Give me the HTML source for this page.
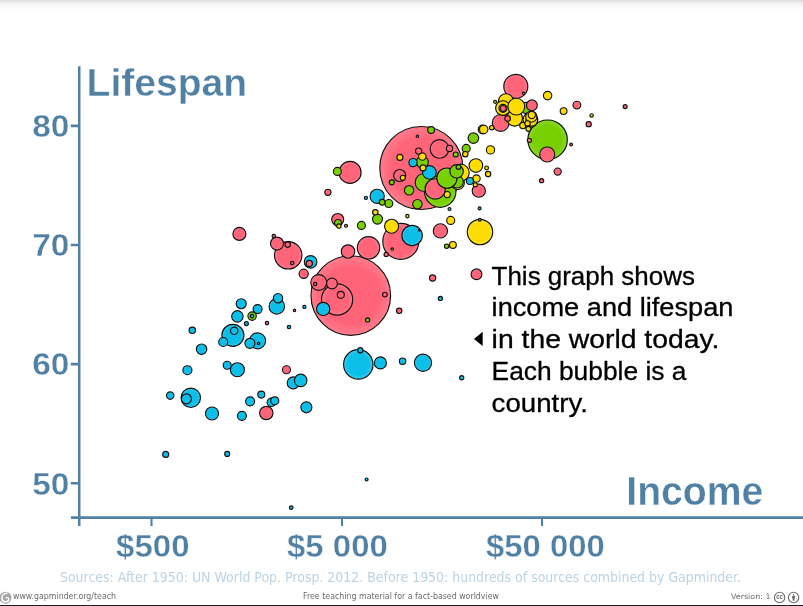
<!DOCTYPE html>
<html><head><meta charset="utf-8"><title>Gapminder</title>
<style>
html,body{margin:0;padding:0;background:#fff;}
body{width:803px;height:606px;overflow:hidden;position:relative;font-family:"Liberation Sans",sans-serif;}
#top{position:absolute;left:0;top:0;width:803px;height:10px;background:linear-gradient(#dedede,#f4f4f4 40%,#fff);}
#bar{position:absolute;left:0;top:604.5px;width:803px;height:1.5px;background:#1e1e1e;}
svg{position:absolute;left:0;top:0;}
.ax{stroke:#fff;stroke-width:0.35px;fill:#5080a3;font-family:"Liberation Sans",sans-serif;font-weight:bold;}
.bub circle{stroke:#111;stroke-width:1.15;}
.t{font-family:"Liberation Sans",sans-serif;fill:#000;stroke:#000;stroke-width:0.3px;font-size:26px;}
.src{font-family:"DejaVu Sans","Liberation Sans",sans-serif;fill:#bcd3e3;font-size:13.2px;}
.ft{font-family:"DejaVu Sans","Liberation Sans",sans-serif;fill:#6a6a6a;font-size:8px;}
</style></head><body>
<div id="top"></div>
<svg width="803" height="606" viewBox="0 0 803 606">
<defs><radialGradient id="gp"><stop offset="0" stop-color="#ff6479"/><stop offset="0.72" stop-color="#ff6479"/><stop offset="1" stop-color="#ff7d8d"/></radialGradient><radialGradient id="gb"><stop offset="0" stop-color="#0bbfe9"/><stop offset="0.72" stop-color="#0bbfe9"/><stop offset="1" stop-color="#3ccdf0"/></radialGradient><radialGradient id="gg"><stop offset="0" stop-color="#78d000"/><stop offset="0.72" stop-color="#78d000"/><stop offset="1" stop-color="#8cd92c"/></radialGradient><radialGradient id="gy"><stop offset="0" stop-color="#ffdc00"/><stop offset="0.72" stop-color="#ffdc00"/><stop offset="1" stop-color="#ffe335"/></radialGradient><radialGradient id="go"><stop offset="0" stop-color="#f58a6a"/><stop offset="0.72" stop-color="#f58a6a"/><stop offset="1" stop-color="#f58a6a"/></radialGradient></defs>
<g stroke="#5080a3" stroke-width="2.5" fill="none">
<path d="M79.25 66.3V526"/><path d="M71 517.6H803" stroke-width="2.7"/>
<path d="M151.5 517V526M342 517V526M542 517V526" stroke-width="2.1"/>
<path d="M70.8 125.9H79M70.8 245H79M70.8 364.1H79M70.8 483.2H79" stroke-width="2.6"/>
</g>
<text class="ax" x="86.6" y="95.9" font-size="38.8" textLength="160.5" lengthAdjust="spacingAndGlyphs">Lifespan</text>
<text class="ax" x="626.3" y="504.5" font-size="40" textLength="137" lengthAdjust="spacingAndGlyphs">Income</text>
<text class="ax" x="32.2" y="137.2" font-size="32" textLength="37.2" lengthAdjust="spacingAndGlyphs">80</text>
<text class="ax" x="32.2" y="256.3" font-size="32" textLength="37.2" lengthAdjust="spacingAndGlyphs">70</text>
<text class="ax" x="32.2" y="375.4" font-size="32" textLength="37.2" lengthAdjust="spacingAndGlyphs">60</text>
<text class="ax" x="32.2" y="494.5" font-size="32" textLength="37.2" lengthAdjust="spacingAndGlyphs">50</text>
<text class="ax" x="116" y="556.6" font-size="32" textLength="73.5" lengthAdjust="spacingAndGlyphs">$500</text>
<text class="ax" x="287" y="556.6" font-size="32" textLength="100.8" lengthAdjust="spacingAndGlyphs">$5 000</text>
<text class="ax" x="486" y="556.6" font-size="32" textLength="118.8" lengthAdjust="spacingAndGlyphs">$50 000</text>
<g class="bub">
<circle cx="421.3" cy="168.0" r="41.5" fill="url(#gp)"/>
<circle cx="350.8" cy="295.5" r="39.8" fill="url(#gp)"/>
<circle cx="515.8" cy="86.4" r="12.0" fill="url(#gp)"/>
<circle cx="547.6" cy="139.7" r="19.7" fill="url(#gg)"/>
<circle cx="525.9" cy="108.0" r="5.6" fill="url(#gg)"/>
<circle cx="400.8" cy="241.4" r="18.0" fill="url(#gp)"/>
<circle cx="505.9" cy="101.2" r="7.5" fill="url(#gy)"/>
<circle cx="500.7" cy="122.9" r="8.4" fill="url(#gp)"/>
<circle cx="502.9" cy="108.1" r="7.3" fill="url(#gy)"/>
<circle cx="514.6" cy="118.2" r="7.9" fill="url(#gy)"/>
<circle cx="503.0" cy="108.3" r="4.0" fill="url(#gy)"/>
<circle cx="440.2" cy="191.6" r="15.7" fill="url(#gg)"/>
<circle cx="337.1" cy="299.5" r="15.6" fill="url(#gp)"/>
<circle cx="503.2" cy="108.5" r="3.0" fill="url(#gp)"/>
<circle cx="358.3" cy="364.4" r="14.7" fill="url(#gb)"/>
<circle cx="516.3" cy="106.6" r="8.4" fill="url(#gy)"/>
<circle cx="531.9" cy="105.3" r="5.4" fill="url(#gp)"/>
<circle cx="288.2" cy="255.3" r="13.7" fill="url(#gp)"/>
<circle cx="530.4" cy="119.8" r="7.4" fill="url(#gy)"/>
<circle cx="480.0" cy="232.0" r="12.7" fill="url(#gy)"/>
<circle cx="531.8" cy="120.2" r="5.8" fill="url(#gy)"/>
<circle cx="531.3" cy="116.7" r="5.6" fill="url(#gy)"/>
<circle cx="368.5" cy="247.8" r="11.2" fill="url(#gp)"/>
<circle cx="232.9" cy="335.3" r="11.0" fill="url(#gb)"/>
<circle cx="350.1" cy="172.4" r="11.0" fill="url(#gp)"/>
<circle cx="531.8" cy="115.1" r="3.6" fill="url(#gy)"/>
<circle cx="424.2" cy="182.5" r="9.0" fill="url(#gg)"/>
<circle cx="457.7" cy="182.8" r="6.7" fill="url(#gy)"/>
<circle cx="460.6" cy="172.7" r="8.6" fill="url(#gy)"/>
<circle cx="457.1" cy="181.8" r="6.2" fill="url(#gg)"/>
<circle cx="435.2" cy="188.9" r="10.1" fill="url(#gp)"/>
<circle cx="412.1" cy="235.5" r="10.2" fill="url(#gb)"/>
<circle cx="446.9" cy="178.1" r="10.1" fill="url(#gg)"/>
<circle cx="522.8" cy="125.6" r="3.1" fill="url(#gy)"/>
<circle cx="190.8" cy="397.8" r="9.7" fill="url(#gb)"/>
<circle cx="439.5" cy="148.9" r="9.3" fill="url(#gp)"/>
<circle cx="527.5" cy="123.4" r="2.7" fill="url(#gy)"/>
<circle cx="423.0" cy="362.8" r="8.6" fill="url(#gb)"/>
<circle cx="257.6" cy="340.8" r="8.0" fill="url(#gb)"/>
<circle cx="528.4" cy="128.8" r="2.5" fill="url(#gy)"/>
<circle cx="318.7" cy="282.5" r="7.9" fill="url(#gp)"/>
<circle cx="276.8" cy="306.4" r="7.7" fill="url(#gb)"/>
<circle cx="547.2" cy="154.5" r="7.5" fill="url(#gp)"/>
<circle cx="377.2" cy="196.3" r="7.1" fill="url(#gb)"/>
<circle cx="440.4" cy="230.9" r="7.1" fill="url(#gp)"/>
<circle cx="237.4" cy="369.7" r="7.0" fill="url(#gb)"/>
<circle cx="391.6" cy="226.2" r="7.0" fill="url(#gy)"/>
<circle cx="429.4" cy="172.4" r="6.8" fill="url(#gb)"/>
<circle cx="475.9" cy="165.5" r="6.8" fill="url(#gy)"/>
<circle cx="348.0" cy="251.5" r="6.7" fill="url(#gp)"/>
<circle cx="266.3" cy="413.0" r="6.7" fill="url(#gp)"/>
<circle cx="456.6" cy="171.3" r="6.7" fill="url(#gg)"/>
<circle cx="323.2" cy="308.9" r="6.6" fill="url(#gb)"/>
<circle cx="478.8" cy="190.7" r="6.6" fill="url(#gp)"/>
<circle cx="239.4" cy="233.9" r="6.5" fill="url(#gp)"/>
<circle cx="277.0" cy="243.6" r="6.5" fill="url(#gp)"/>
<circle cx="212.0" cy="413.5" r="6.5" fill="url(#gb)"/>
<circle cx="310.6" cy="261.9" r="6.3" fill="url(#gb)"/>
<circle cx="293.2" cy="382.9" r="6.0" fill="url(#gb)"/>
<circle cx="300.7" cy="380.4" r="6.2" fill="url(#gb)"/>
<circle cx="337.7" cy="219.5" r="6.0" fill="url(#gp)"/>
<circle cx="380.4" cy="362.9" r="6.0" fill="url(#gb)"/>
<circle cx="422.3" cy="162.1" r="6.0" fill="url(#gg)"/>
<circle cx="399.7" cy="175.5" r="6.0" fill="url(#gp)"/>
<circle cx="237.4" cy="316.4" r="5.7" fill="url(#gb)"/>
<circle cx="306.4" cy="407.3" r="5.5" fill="url(#gb)"/>
<circle cx="332.0" cy="283.5" r="5.4" fill="url(#gp)"/>
<circle cx="476.5" cy="274.3" r="5.4" fill="url(#gp)"/>
<circle cx="473.4" cy="138.1" r="5.3" fill="url(#gg)"/>
<circle cx="201.6" cy="349.2" r="5.2" fill="url(#gb)"/>
<circle cx="241.2" cy="303.7" r="5.0" fill="url(#gb)"/>
<circle cx="249.9" cy="343.3" r="5.0" fill="url(#gb)"/>
<circle cx="186.4" cy="398.8" r="5.0" fill="url(#gb)"/>
<circle cx="377.5" cy="219.1" r="5.0" fill="url(#gg)"/>
<circle cx="278.0" cy="298.2" r="4.7" fill="url(#gb)"/>
<circle cx="409.1" cy="190.3" r="4.7" fill="url(#gg)"/>
<circle cx="417.4" cy="204.2" r="4.7" fill="url(#gg)"/>
<circle cx="303.7" cy="273.8" r="4.6" fill="url(#gp)"/>
<circle cx="257.6" cy="309.1" r="4.5" fill="url(#gb)"/>
<circle cx="223.2" cy="342.0" r="4.5" fill="url(#gb)"/>
<circle cx="187.4" cy="370.2" r="4.5" fill="url(#gb)"/>
<circle cx="250.1" cy="401.3" r="4.5" fill="url(#gb)"/>
<circle cx="241.9" cy="415.8" r="4.5" fill="url(#gb)"/>
<circle cx="482.6" cy="129.5" r="4.4" fill="url(#gy)"/>
<circle cx="252.1" cy="316.1" r="4.2" fill="url(#gg)"/>
<circle cx="271.3" cy="402.3" r="4.2" fill="url(#gb)"/>
<circle cx="547.6" cy="95.6" r="4.2" fill="url(#gy)"/>
<circle cx="483.7" cy="129.4" r="4.2" fill="url(#gy)"/>
<circle cx="413.0" cy="162.6" r="4.1" fill="url(#gb)"/>
<circle cx="490.5" cy="149.9" r="4.1" fill="url(#gy)"/>
<circle cx="227.2" cy="365.2" r="4.0" fill="url(#gb)"/>
<circle cx="286.5" cy="369.7" r="4.0" fill="url(#gp)"/>
<circle cx="274.8" cy="400.8" r="4.0" fill="url(#gb)"/>
<circle cx="337.4" cy="171.4" r="4.0" fill="url(#gg)"/>
<circle cx="388.8" cy="203.5" r="4.0" fill="url(#gg)"/>
<circle cx="361.4" cy="225.4" r="4.0" fill="url(#gg)"/>
<circle cx="466.2" cy="148.4" r="4.0" fill="url(#gg)"/>
<circle cx="450.7" cy="220.4" r="4.0" fill="url(#gy)"/>
<circle cx="576.9" cy="105.1" r="3.9" fill="url(#gp)"/>
<circle cx="234.2" cy="330.8" r="3.7" fill="url(#gb)"/>
<circle cx="170.2" cy="395.6" r="3.7" fill="url(#gb)"/>
<circle cx="422.3" cy="156.5" r="3.7" fill="url(#gy)"/>
<circle cx="476.5" cy="178.5" r="3.7" fill="url(#gy)"/>
<circle cx="557.7" cy="171.6" r="3.6" fill="url(#gp)"/>
<circle cx="340.8" cy="294.8" r="3.5" fill="url(#gp)"/>
<circle cx="261.3" cy="394.6" r="3.5" fill="url(#gb)"/>
<circle cx="469.9" cy="181.0" r="3.5" fill="url(#gb)"/>
<circle cx="338.0" cy="222.9" r="3.4" fill="url(#gg)"/>
<circle cx="431.1" cy="130.0" r="3.4" fill="url(#gg)"/>
<circle cx="452.9" cy="244.9" r="3.4" fill="url(#gy)"/>
<circle cx="563.6" cy="111.1" r="3.4" fill="url(#gy)"/>
<circle cx="192.3" cy="330.3" r="3.2" fill="url(#gb)"/>
<circle cx="402.6" cy="361.2" r="3.2" fill="url(#gb)"/>
<circle cx="309.3" cy="263.4" r="3.1" fill="url(#gp)"/>
<circle cx="327.9" cy="192.3" r="3.1" fill="url(#gp)"/>
<circle cx="449.5" cy="148.4" r="3.1" fill="url(#gp)"/>
<circle cx="418.6" cy="151.1" r="3.1" fill="url(#gp)"/>
<circle cx="447.2" cy="194.6" r="3.1" fill="url(#gy)"/>
<circle cx="432.6" cy="278.0" r="3.1" fill="url(#gp)"/>
<circle cx="165.7" cy="454.4" r="3.0" fill="url(#gb)"/>
<circle cx="399.9" cy="157.4" r="3.0" fill="url(#gy)"/>
<circle cx="423.0" cy="167.9" r="3.0" fill="url(#gy)"/>
<circle cx="382.2" cy="202.3" r="2.9" fill="url(#gg)"/>
<circle cx="507.6" cy="118.4" r="2.8" fill="url(#gp)"/>
<circle cx="287.7" cy="244.6" r="2.7" fill="url(#gp)"/>
<circle cx="375.3" cy="212.3" r="2.7" fill="url(#gy)"/>
<circle cx="465.3" cy="154.2" r="2.7" fill="url(#gy)"/>
<circle cx="399.2" cy="310.8" r="2.7" fill="url(#gp)"/>
<circle cx="488.1" cy="174.1" r="2.7" fill="url(#gy)"/>
<circle cx="360.3" cy="350.3" r="2.6" fill="url(#gb)"/>
<circle cx="588.7" cy="124.2" r="2.6" fill="url(#gp)"/>
<circle cx="227.2" cy="453.9" r="2.5" fill="url(#gb)"/>
<circle cx="402.8" cy="177.7" r="2.5" fill="url(#gy)"/>
<circle cx="391.8" cy="182.3" r="2.5" fill="url(#gg)"/>
<circle cx="455.7" cy="154.5" r="2.5" fill="url(#gg)"/>
<circle cx="384.9" cy="294.6" r="2.4" fill="url(#gp)"/>
<circle cx="458.5" cy="167.0" r="2.4" fill="url(#gg)"/>
<circle cx="338.9" cy="226.1" r="2.2" fill="url(#gy)"/>
<circle cx="446.6" cy="246.2" r="2.2" fill="url(#gg)"/>
<circle cx="491.7" cy="127.7" r="2.2" fill="url(#gy)"/>
<circle cx="461.7" cy="377.8" r="2.1" fill="url(#gb)"/>
<circle cx="386.2" cy="254.4" r="2.1" fill="url(#gp)"/>
<circle cx="475.3" cy="184.8" r="2.1" fill="url(#gy)"/>
<circle cx="440.4" cy="298.4" r="2.1" fill="url(#gb)"/>
<circle cx="367.6" cy="319.9" r="2.1" fill="url(#gg)"/>
<circle cx="529.4" cy="140.3" r="2.1" fill="url(#go)"/>
<circle cx="541.6" cy="180.7" r="2.1" fill="url(#gp)"/>
<circle cx="246.4" cy="323.6" r="2.0" fill="url(#gb)"/>
<circle cx="625.1" cy="106.6" r="2.0" fill="url(#gp)"/>
<circle cx="486.6" cy="167.9" r="1.9" fill="url(#gy)"/>
<circle cx="291.2" cy="507.6" r="1.8" fill="url(#gb)"/>
<circle cx="273.8" cy="236.1" r="1.7" fill="url(#gp)"/>
<circle cx="292.2" cy="263.0" r="1.7" fill="url(#gp)"/>
<circle cx="252.0" cy="316.1" r="1.7" fill="url(#gb)"/>
<circle cx="267.0" cy="323.1" r="1.7" fill="url(#gp)"/>
<circle cx="289.0" cy="327.0" r="1.7" fill="url(#gb)"/>
<circle cx="407.4" cy="216.1" r="1.7" fill="url(#gy)"/>
<circle cx="591.6" cy="115.4" r="1.7" fill="url(#gy)"/>
<circle cx="315.2" cy="284.0" r="1.6" fill="url(#gp)"/>
<circle cx="304.4" cy="306.9" r="1.6" fill="url(#gb)"/>
<circle cx="365.9" cy="197.8" r="1.6" fill="url(#gb)"/>
<circle cx="346.0" cy="225.7" r="1.5" fill="url(#gp)"/>
<circle cx="366.6" cy="479.5" r="1.5" fill="url(#gb)"/>
<circle cx="449.5" cy="209.0" r="1.5" fill="url(#gb)"/>
<circle cx="479.6" cy="208.4" r="1.5" fill="url(#gb)"/>
<circle cx="495.1" cy="101.8" r="1.5" fill="url(#gy)"/>
<circle cx="479.8" cy="219.8" r="1.4" fill="url(#gg)"/>
<circle cx="571.1" cy="144.4" r="1.4" fill="url(#gp)"/>
<circle cx="294.5" cy="310.4" r="1.2" fill="url(#gp)"/>
<circle cx="258.6" cy="343.5" r="1.2" fill="url(#gp)"/>
<circle cx="392.3" cy="249.0" r="1.2" fill="url(#gg)"/>
<circle cx="417.4" cy="136.2" r="1.2" fill="url(#gp)"/>
<circle cx="523.5" cy="93.3" r="1.2" fill="url(#gy)"/>
<circle cx="419.2" cy="230.1" r="1.0" fill="url(#gy)"/>
</g>
<path d="M474 339L482.7 331.8V346Z" fill="#000"/>
<text class="t" x="491.6" y="284.5" textLength="203.3" lengthAdjust="spacingAndGlyphs">This graph shows</text>
<text class="t" x="491.6" y="316.4" textLength="241.8" lengthAdjust="spacingAndGlyphs">income and lifespan</text>
<text class="t" x="491.6" y="348.3" textLength="227.8" lengthAdjust="spacingAndGlyphs">in the world today.</text>
<text class="t" x="491.6" y="380.2" textLength="194.8" lengthAdjust="spacingAndGlyphs">Each bubble is a</text>
<text class="t" x="491.6" y="412.1" textLength="96.3" lengthAdjust="spacingAndGlyphs">country.</text>
<text class="src" x="60" y="581.8" textLength="681" lengthAdjust="spacingAndGlyphs">Sources: After 1950: UN World Pop. Prosp. 2012. Before 1950: hundreds of sources combined by Gapminder.</text>
<circle cx="5.5" cy="597.7" r="6" fill="#a6a6a6"/>
<path d="M7 593.3C3.6 593.3 1.9 595.8 1.9 598C1.9 600.4 3.6 601.8 5.6 601.8C7.6 601.8 8.8 600.7 8.8 599.3C8.8 597.9 7.6 597.2 6.3 597.7" stroke="#fff" stroke-width="1.5" fill="none" stroke-linecap="round"/>
<text class="ft" x="13" y="598.8" textLength="103" lengthAdjust="spacingAndGlyphs">www.gapminder.org/teach</text>
<text class="ft" x="303" y="598.8" textLength="196" lengthAdjust="spacingAndGlyphs">Free teaching material for a fact-based worldview</text>
<text class="ft" style="font-size:7.5px" x="731" y="598.8" textLength="39.5" lengthAdjust="spacingAndGlyphs">Version: 1</text>
<g fill="none" stroke="#6e6e6e" stroke-width="1.1"><circle cx="779.6" cy="597.5" r="5.2"/><circle cx="793.6" cy="597.5" r="5.2"/></g>
<text x="779.6" y="599.4" font-size="6.6" font-weight="bold" text-anchor="middle" fill="#6e6e6e" font-family="Liberation Sans, sans-serif" textLength="6.8" lengthAdjust="spacingAndGlyphs">cc</text>
<circle cx="793.6" cy="594.9" r="0.8" fill="#6e6e6e"/><path d="M792.1 596h3v2.4h-0.6v2.3h-1.8v-2.3h-0.6z" fill="#6e6e6e"/>
</svg>
<div id="bar"></div>
</body></html>
